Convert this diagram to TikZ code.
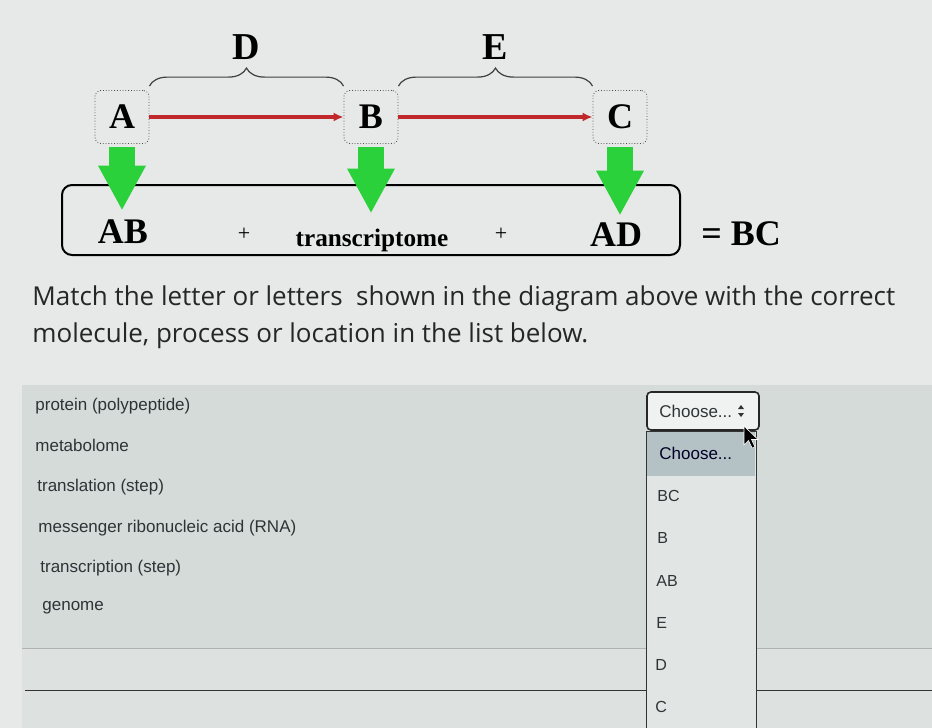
\documentclass[tikz,border=0pt]{standalone}
\usepackage{fontspec}
\setmainfont{Liberation Serif}
\setsansfont{Liberation Sans}
\newfontfamily\questionfont{Open Sans}
\usetikzlibrary{arrows.meta,decorations.pathreplacing,positioning}
\definecolor{screen}{HTML}{E6E9E7}
\definecolor{panel}{HTML}{D4DBD9}
\definecolor{lowerpanel}{HTML}{DDE2E0}
\definecolor{arrowred}{HTML}{C0282C}
\definecolor{arrowgreen}{HTML}{2BD13B}
\definecolor{selected}{HTML}{B4C2C6}
\definecolor{itemtext}{HTML}{2E3436}

\begin{document}
\begin{tikzpicture}[
	x=0.5pt, y=-0.5pt,
	> = {Latex[length=5pt,width=4.5pt]},
	letterbox/.style = {draw=black!70, densely dotted, rounded corners=3pt, minimum width=27pt, minimum height=26.5pt, inner sep=0pt, font=\fontsize{18}{18}\selectfont\bfseries},
	product/.style = {anchor=base, inner sep=0pt, font=\fontsize{18}{18}\selectfont\bfseries},
	plus/.style = {anchor=base, inner sep=0pt, font=\fontsize{11}{11}\selectfont},
	redarrow/.style = {->, draw=arrowred, line width=2pt},
	greenarrow/.style = {draw=arrowgreen, line width=13pt, -{Triangle[length=22pt,width=24pt,line width=0pt]}, shorten <=1.5pt},
	brace/.style = {decorate, decoration={brace, amplitude=9pt}, draw=black!75, line width=0.6pt},
	braceletter/.style = {inner sep=0pt, font=\fontsize{19}{19}\selectfont\bfseries},
	question/.style = {anchor=west, inner sep=0pt, font=\questionfont\fontsize{13}{13}\selectfont, text=black!85},
	item/.style = {anchor=west, inner sep=0pt, font=\sffamily\fontsize{8.5}{8.5}\selectfont, text=itemtext},
	option/.style = {anchor=west, inner sep=0pt, font=\sffamily\fontsize{8}{8}\selectfont, text=itemtext}
	]
	\clip (0,0) rectangle (932,728);
	\fill[screen] (0,0) rectangle (932,728);
	\fill[panel] (22,385) rectangle (932,648);
	\fill[lowerpanel] (22,648) rectangle (932,728);

	\node[letterbox] (A) at (122,117) {A};
	\node[letterbox] (B) at (371,117) {B};
	\node[letterbox] (C) at (620,117) {C};

	\node[draw, line width=1pt, rounded corners=5pt, minimum width=309pt, minimum height=35pt] (pool) at (371,220) {};
	\node[product] (AB) at (123,243) {AB};
	\node[plus] (plus1) at (244,240) {+};
	\node[product, font=\fontsize{12.6}{12.6}\selectfont\bfseries] (T) at (372,246) {transcriptome};
	\node[plus] (plus2) at (501,240) {+};
	\node[product] (AD) at (616,246) {AD};
	\node[product, anchor=base west] (BC) at (701,245) {= BC};

	\draw[redarrow] (A.east) -- (B.west);
	\draw[redarrow] (B.east) -- (C.west);

	\draw[brace] ([yshift=2pt]A.north east) -- node[braceletter, above=13pt] (D) {D} ([yshift=2pt]B.north west);
	\draw[brace] ([yshift=2pt]B.north east) -- node[braceletter, above=13pt] (E) {E} ([yshift=2pt]C.north west);

	\draw[greenarrow, shorten >=4.6pt] (A.south) -- (A.south |- AB.north);
	\draw[greenarrow, shorten >=7.8pt] (B.south) -- (B.south |- T.north);
	\draw[greenarrow, shorten >=3.6pt] (C.south) -- (C.south |- AD.north);

	\node[question] (Q1) at (32,299) {Match the letter or letters~ shown in the diagram above with the correct};
	\node[question] (Q2) at (32,336) {molecule, process or location in the list below.};

	\node[item] (protein)       at (35,406) {protein (polypeptide)};
	\node[item] (metabolome)    at (35,445) {metabolome};
	\node[item] (translation)   at (37,487) {translation (step)};
	\node[item] (mrna)          at (38,528) {messenger ribonucleic acid (RNA)};
	\node[item] (transcription) at (40,568) {transcription (step)};
	\node[item] (genome)        at (42,608) {genome};

	\draw[black!30] (22,648) -- (932,648);
	\draw[black!80] (25,690) -- (932,690);

	\node[draw=black!85, line width=0.8pt, rounded corners=2pt, fill=screen!60!white, minimum width=56pt, minimum height=19pt] (select) at (703,411) {};
	\node[option, font=\sffamily\fontsize{8.5}{8.5}\selectfont] (choose) at (659,411) {Choose...};
	\fill[itemtext] (738,409) -- (744,409) -- (741,405) -- cycle;
	\fill[itemtext] (738,413) -- (744,413) -- (741,417) -- cycle;

	\draw[black!80, fill=panel!70!white] (646,431) rectangle (756,740);
	\fill[selected] (647,432) rectangle (755,476);
	\node[option, font=\sffamily\fontsize{8.5}{8.5}\selectfont, text=black!85!blue] (listchoose) at (659,453) {Choose...};
	\node[option] (optBC) at (657,496) {BC};
	\node[option] (optB)  at (657,538) {B};
	\node[option] (optAB) at (656,581) {AB};
	\node[option] (optE)  at (656,623) {E};
	\node[option] (optD)  at (655,665) {D};
	\node[option] (optC)  at (655,707) {C};

	\filldraw[black, draw=white, line width=0.3pt] (744,426) -- (744,445) -- (748.5,440.5) -- (752,448) -- (755,447) -- (751.5,439.5) -- (758,439.5) -- cycle;
\end{tikzpicture}
\end{document}
